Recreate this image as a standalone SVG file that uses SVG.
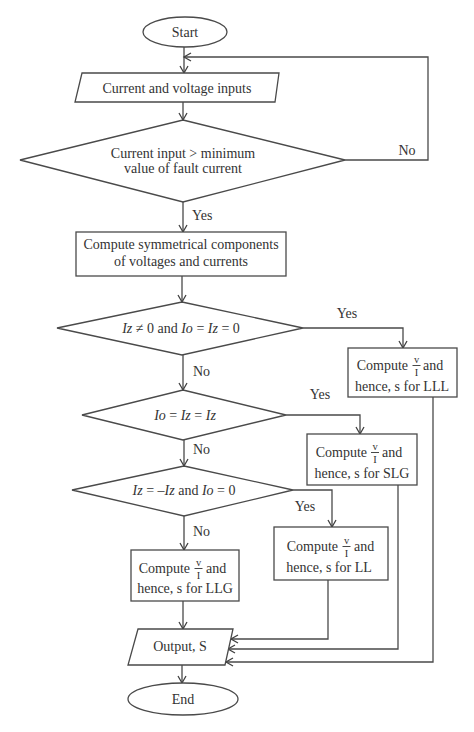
<svg xmlns="http://www.w3.org/2000/svg" width="474" height="732" viewBox="0 0 474 732">
<defs>
<marker id="arr" markerWidth="10" markerHeight="10" refX="8" refY="5" orient="auto" markerUnits="userSpaceOnUse">
<path d="M1,1 L8,5 L1,9" fill="none" stroke="#404040" stroke-width="1.3"/>
</marker>
<style>
.s{fill:#fff;stroke:#4a4a4a;stroke-width:1.3}
.c{fill:none;stroke:#4a4a4a;stroke-width:1.3;marker-end:url(#arr)}
text{font-family:"Liberation Serif","Times New Roman",serif;font-size:14px;fill:#333}
.m{text-anchor:middle}
.e{text-anchor:end}
.f{font-size:10.5px;text-anchor:middle}
.i{font-style:italic}
.fb{stroke:#333;stroke-width:0.9}
</style>
</defs>
<rect width="474" height="732" fill="#fff"/>
<g id="connectors">
<line class="c" x1="184" y1="47" x2="184" y2="73"/>
<path class="c" d="M345,160 H428 V57 H184"/>
<line class="c" x1="183" y1="102" x2="183" y2="120"/>
<line class="c" x1="183" y1="202" x2="183" y2="232"/>
<line class="c" x1="182" y1="276" x2="182" y2="302"/>
<path class="c" d="M303,328 H403 V348"/>
<line class="c" x1="183" y1="355" x2="183" y2="390"/>
<path class="c" d="M286,415 H360 V434"/>
<line class="c" x1="184" y1="440" x2="184" y2="466"/>
<path class="c" d="M293,490 H332 V527"/>
<line class="c" x1="184" y1="516" x2="184" y2="550"/>
<line class="c" x1="183" y1="601" x2="183" y2="629"/>
<path class="c" d="M328,580 V639 H231"/>
<path class="c" d="M398,485 V649 H228"/>
<path class="c" d="M433,397 V662 H226"/>
<line class="c" x1="182" y1="665" x2="182" y2="683"/>
<text x="407" y="155" class="m">No</text>
<text x="192" y="220">Yes</text>
<text x="347" y="318" class="m">Yes</text>
<text x="193" y="376">No</text>
<text x="320" y="399" class="m">Yes</text>
<text x="193" y="454">No</text>
<text x="305" y="511" class="m">Yes</text>
<text x="193" y="536">No</text>
</g>
<g id="start">
<ellipse class="s" cx="185" cy="32" rx="42" ry="15"/>
<text x="185" y="37" class="m">Start</text>
</g>
<g id="inputs">
<polygon class="s" points="82,73 279,73 275,102 75,102"/>
<text x="177" y="93" class="m">Current and voltage inputs</text>
</g>
<g id="check-current">
<polygon class="s" points="183,120 345,160 183,202 20,160"/>
<text x="183" y="158" class="m">Current input &gt; minimum</text>
<text x="183" y="173" class="m">value of fault current</text>
</g>
<g id="symmetrical">
<rect class="s" x="76" y="232" width="210" height="44"/>
<text x="181" y="249" class="m">Compute symmetrical components</text>
<text x="181" y="266" class="m">of voltages and currents</text>
</g>
<g id="decision-lll">
<polygon class="s" points="182,302 303,328 182,355 57,328"/>
<text x="181" y="333" class="m"><tspan class="i">Iz</tspan> ≠ 0 and <tspan class="i">Io</tspan> = <tspan class="i">Iz</tspan> = 0</text>
</g>
<g id="lll">
<rect class="s" x="348" y="348" width="109" height="49"/>
<text x="408" y="370" class="e">Compute</text>
<text x="416.5" y="363" class="f">v</text>
<line class="fb" x1="412.5" y1="365.5" x2="420.5" y2="365.5"/>
<text x="416.5" y="375.5" class="f">I</text>
<text x="423" y="370">and</text>
<text x="402" y="391" class="m">hence, s for LLL</text>
</g>
<g id="decision-slg">
<polygon class="s" points="183,390 286,415 183,440 82,415"/>
<text x="185" y="420" class="m"><tspan class="i">Io</tspan> = <tspan class="i">Iz</tspan> = <tspan class="i">Iz</tspan></text>
</g>
<g id="slg">
<rect class="s" x="307" y="434" width="110" height="51"/>
<text x="367" y="457" class="e">Compute</text>
<text x="375" y="450" class="f">v</text>
<line class="fb" x1="371" y1="452.5" x2="379" y2="452.5"/>
<text x="375" y="462.5" class="f">I</text>
<text x="382" y="457">and</text>
<text x="362" y="478" class="m">hence, s for SLG</text>
</g>
<g id="decision-ll">
<polygon class="s" points="184,466 293,490 184,516 72,490"/>
<text x="184" y="495" class="m"><tspan class="i">Iz</tspan> = –<tspan class="i">Iz</tspan> and <tspan class="i">Io</tspan> = 0</text>
</g>
<g id="ll">
<rect class="s" x="274" y="527" width="114" height="53"/>
<text x="338" y="551" class="e">Compute</text>
<text x="346.5" y="544" class="f">v</text>
<line class="fb" x1="342.5" y1="546.5" x2="350.5" y2="546.5"/>
<text x="346.5" y="556.5" class="f">I</text>
<text x="354" y="551">and</text>
<text x="329" y="572" class="m">hence, s for LL</text>
</g>
<g id="llg">
<rect class="s" x="131" y="550" width="108" height="51"/>
<text x="190" y="573" class="e">Compute</text>
<text x="198.5" y="566" class="f">v</text>
<line class="fb" x1="194.5" y1="568.5" x2="202.5" y2="568.5"/>
<text x="198.5" y="578.5" class="f">I</text>
<text x="206" y="573">and</text>
<text x="185" y="593" class="m">hence, s for LLG</text>
</g>
<g id="output">
<polygon class="s" points="138,629 233,629 225,665 128,665"/>
<text x="180" y="651" class="m">Output, S</text>
</g>
<g id="end">
<ellipse class="s" cx="183" cy="699" rx="55" ry="16"/>
<text x="183" y="704" class="m">End</text>
</g>
</svg>
